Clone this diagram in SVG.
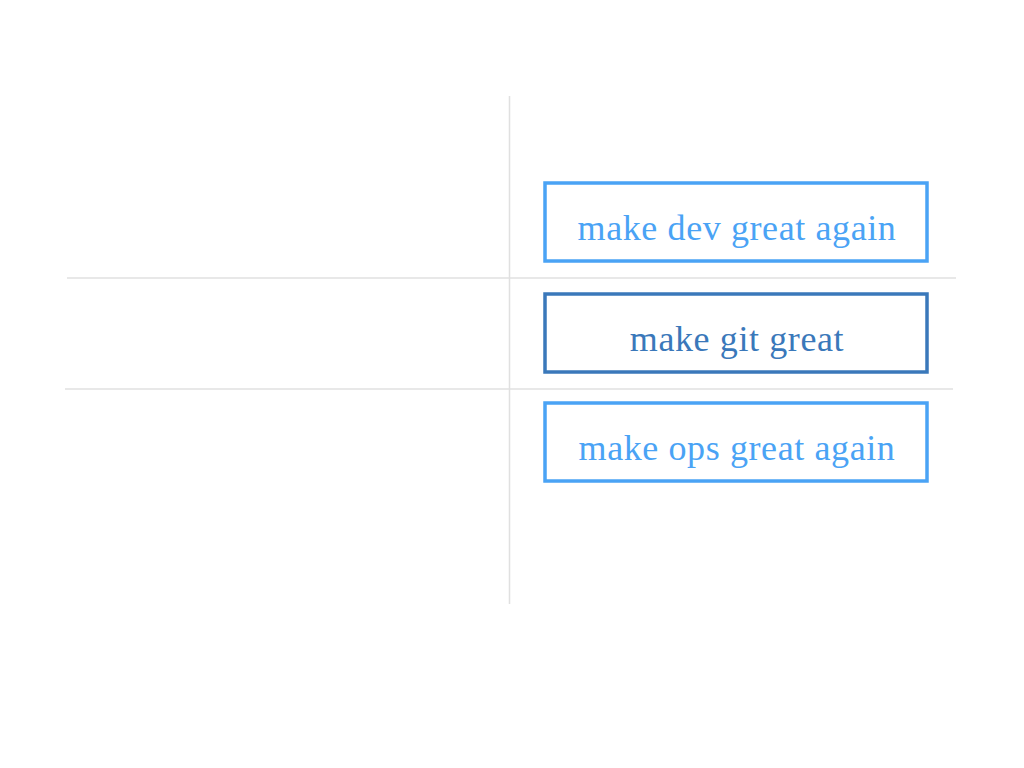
<svg xmlns="http://www.w3.org/2000/svg" width="1024" height="768" viewBox="0 0 1024 768">
<style>
.grid{stroke:#e0e0e0;stroke-width:1.5;fill:none}
.box{fill:#fff;stroke-width:3.5}
.light{stroke:#4aa3f5}
.dark{stroke:#3a78ba}
.t{font-family:"Liberation Serif","DejaVu Serif",serif;font-size:36px;text-anchor:middle;letter-spacing:0.6px}
.tl{fill:#4aa3f5}
.td{fill:#3a78ba}
</style>
<rect width="1024" height="768" fill="#fff"/>
<g id="connectors">
<line class="grid" x1="509.5" y1="96" x2="509.5" y2="604"/>
<line class="grid" x1="67" y1="278" x2="956" y2="278"/>
<line class="grid" x1="65" y1="389" x2="953" y2="389"/>
</g>
<g id="node-dev">
<rect class="box light" x="545" y="183" width="382" height="78"/>
<text class="t tl" x="737" y="240">make dev great again</text>
</g>
<g id="node-git">
<rect class="box dark" x="545" y="294" width="382" height="78"/>
<text class="t td" x="737" y="351">make git great</text>
</g>
<g id="node-ops">
<rect class="box light" x="545" y="403" width="382" height="78"/>
<text class="t tl" x="737" y="460">make ops great again</text>
</g>
</svg>
